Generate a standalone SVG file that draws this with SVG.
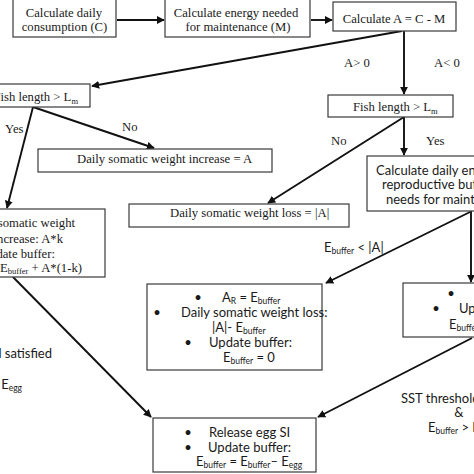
<svg xmlns="http://www.w3.org/2000/svg" width="474" height="474" viewBox="0 0 474 474">
<style>
.box{fill:#fff;stroke:#3a3a3a;stroke-width:1.2}
.ser{font-family:"Liberation Serif","Times New Roman",serif;font-size:12.7px;fill:#1a1a1a}
.san{font-family:Lato,"Noto Sans",sans-serif;font-size:13px;fill:#1a1a1a}
.c{text-anchor:middle}
.e{text-anchor:end}
.sub{font-size:8.5px}
.con line{stroke:#111;stroke-width:1.9;marker-end:url(#ah)}
</style>
<defs>
<marker id="ah" viewBox="0 0 10 10" refX="9" refY="5" markerWidth="4.2" markerHeight="4.2" orient="auto" markerUnits="strokeWidth">
<path d="M0,0 L10,5 L0,10 z" fill="#111"/>
</marker>
</defs>
<rect width="474" height="474" fill="#fff"/>

<g id="connectors" class="con">
<line x1="117" y1="20" x2="164" y2="20"/>
<line x1="311" y1="20" x2="332" y2="20"/>
<line x1="402" y1="31" x2="92" y2="86"/>
<line x1="404" y1="31" x2="404" y2="94"/>
<line x1="33" y1="107" x2="7" y2="208"/>
<line x1="33" y1="107" x2="154" y2="148"/>
<line x1="404" y1="117" x2="404" y2="155"/>
<line x1="404" y1="117" x2="268" y2="203"/>
<line x1="471" y1="211" x2="471" y2="282"/>
<line x1="470" y1="212" x2="326" y2="283"/>
<line x1="472" y1="338" x2="318" y2="417"/>
<line x1="13" y1="277" x2="151" y2="417"/>
</g>

<g id="n-consumption">
<rect class="box" x="13" y="-2" width="103" height="39"/>
<text class="ser c" x="64" y="17">Calculate daily</text>
<text class="ser c" x="64.5" y="31">consumption (C)</text>
</g>

<g id="n-maintenance">
<rect class="box" x="165" y="-2" width="145" height="39"/>
<text class="ser c" x="236" y="17">Calculate energy needed</text>
<text class="ser c" x="238" y="31">for maintenance (M)</text>
</g>

<g id="n-calcA">
<rect class="box" x="333" y="2" width="123" height="29"/>
<text class="ser c" x="394" y="23">Calculate A = C - M</text>
</g>

<g id="n-fish-left">
<rect class="box" x="-35" y="84" width="125" height="23"/>
<text class="ser e" x="78" y="101">Fish length &gt; L<tspan class="sub" dy="2.5">m</tspan></text>
</g>

<g id="n-fish-right">
<rect class="box" x="328" y="95" width="125" height="22"/>
<text class="ser" x="353" y="111">Fish length &gt; L<tspan class="sub" dy="2.5">m</tspan></text>
</g>

<g id="n-increase">
<rect class="box" x="38" y="149" width="234" height="23"/>
<text class="ser" x="77" y="163">Daily somatic weight increase = A</text>
</g>

<g id="n-loss">
<rect class="box" x="129" y="204" width="220" height="23"/>
<text class="ser" x="170" y="217">Daily somatic weight loss = |A|</text>
</g>

<g id="n-calc-buffer">
<rect class="box" x="367" y="156" width="115" height="55"/>
<text class="san" x="376" y="175">Calculate daily energy</text>
<text class="san" x="382" y="189">reproductive buffer</text>
<text class="san" x="386" y="204">needs for maintenance</text>
</g>

<g id="n-somatic-buffer">
<rect class="box" x="-12" y="209" width="117" height="68"/>
<text class="ser e" x="75" y="227">somatic weight</text>
<text class="ser e" x="63" y="243">increase: A*k</text>
<text class="ser e" x="55" y="258">Update buffer:</text>
<text class="ser e" x="82" y="272">E<tspan class="sub" dy="2">buffer</tspan><tspan dy="-2"> = E</tspan><tspan class="sub" dy="2">buffer</tspan><tspan dy="-2"> + A*(1-k)</tspan></text>
</g>

<g id="n-reset-buffer">
<rect class="box" x="147" y="284" width="175" height="86"/>
<text class="san c" x="198" y="302">•</text>
<text class="san" x="222" y="302">A<tspan class="sub" dy="2">R</tspan><tspan dy="-2"> = E</tspan><tspan class="sub" dy="2">buffer</tspan></text>
<text class="san c" x="157" y="317">•</text>
<text class="san" x="181" y="317">Daily somatic weight loss:</text>
<text class="san" x="212" y="332">|A|- E<tspan class="sub" dy="2">buffer</tspan></text>
<text class="san c" x="188" y="347">•</text>
<text class="san" x="209" y="347">Update buffer:</text>
<text class="san" x="223" y="362">E<tspan class="sub" dy="2">buffer</tspan><tspan dy="-2"> = 0</tspan></text>
</g>

<g id="n-right-buffer">
<rect class="box" x="403" y="283" width="80" height="54"/>
<text class="san c" x="451" y="298">•</text>
<text class="san c" x="436" y="313">•</text>
<text class="san" x="459" y="313">Update buffer:</text>
<text class="san" x="449" y="329">E<tspan class="sub" dy="2">buffer</tspan></text>
</g>

<g id="n-release">
<rect class="box" x="153" y="418" width="163" height="54"/>
<text class="san c" x="188" y="437">•</text>
<text class="san" x="209" y="437">Release egg SI</text>
<text class="san c" x="188" y="452">•</text>
<text class="san" x="208" y="452">Update buffer:</text>
<text class="san" x="196" y="466">E<tspan class="sub" dy="2">buffer</tspan><tspan dy="-2"> = E</tspan><tspan class="sub" dy="2">buffer</tspan><tspan dy="-2">– E</tspan><tspan class="sub" dy="2">egg</tspan></text>
</g>

<g id="labels">
<text class="ser" x="344" y="67">A&gt; 0</text>
<text class="ser" x="434" y="67">A&lt; 0</text>
<text class="ser" x="5" y="133">Yes</text>
<text class="ser" x="122" y="131">No</text>
<text class="ser" x="331" y="145">No</text>
<text class="ser" x="426" y="145">Yes</text>
<text class="san" x="324" y="252">E<tspan class="sub" dy="2">buffer</tspan><tspan dy="-2"> &lt; |A|</tspan></text>
<text class="san" x="401" y="403">SST threshold satisfied</text>
<text class="san c" x="459" y="417">&amp;</text>
<text class="san" x="428" y="432">E<tspan class="sub" dy="2">buffer</tspan><tspan dy="-2"> &gt; E</tspan><tspan class="sub" dy="2">egg</tspan></text>
<text class="san e" x="52" y="358">SST threshold satisfied</text>
<text class="san e" x="22" y="389">E<tspan class="sub" dy="2">buffer</tspan><tspan dy="-2"> &gt; E</tspan><tspan class="sub" dy="2">egg</tspan></text>
</g>
</svg>
